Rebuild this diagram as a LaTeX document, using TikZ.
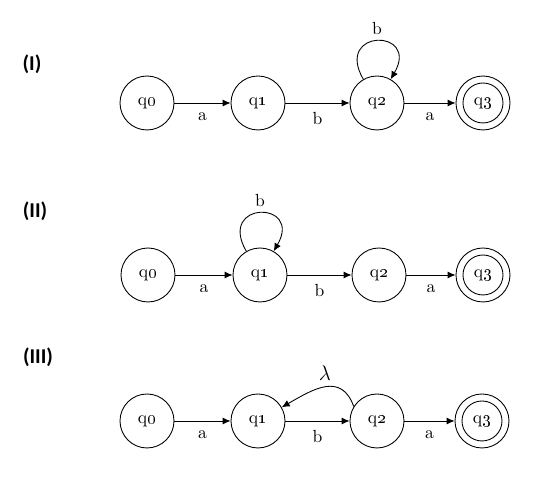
\documentclass[tikz,border=0pt]{standalone}
\usepackage{fontspec}
\newfontfamily\partfont{Carlito}
\newcommand\osn[1]{{\fontencoding{TS1}\fontfamily{lmr}\selectfont #1}}
\usetikzlibrary{arrows.meta}

\begin{document}
\begin{tikzpicture}[x=0.02cm, y=0.02cm, line width=0.5pt, >={Latex[length=4.5pt,width=4pt]},
    state/.style={circle, draw, minimum size=1.08cm, inner sep=0pt},
    accepting/.style={state, path picture={\draw (path picture bounding box.center) circle (0.4cm);}},
    part/.style={font=\partfont\bfseries\large}]
    \useasboundingbox (0,0) rectangle (556,502);

    % (I)
    \node[part] (p1) at (32,438) {(I)};
    \node[state] (a0) at (147,399) {q\osn{0}};
    \node[state] (a1) at (258,399) {q\osn{1}};
    \node[state] (a2) at (377,399) {q\osn{2}};
    \node[accepting] (a3) at (483,399) {q\osn{3}};
    \draw[->] (a0) -- node[below=2pt] {a} (a1);
    \draw[->] (a1) -- node[below=2pt] {b} (a2);
    \draw[->] (a2) -- node[below=2pt] {a} (a3);
    \draw[->] (a2) to[out=120, in=60, looseness=5.5] node[above] {b} (a2);

    % (II)
    \node[part] (p2) at (35,291) {(II)};
    \node[state] (b0) at (148,227) {q\osn{0}};
    \node[state] (b1) at (260,227) {q\osn{1}};
    \node[state] (b2) at (379,227) {q\osn{2}};
    \node[accepting] (b3) at (483,227) {q\osn{3}};
    \draw[->] (b0) -- node[below=2pt] {a} (b1);
    \draw[->] (b1) -- node[below=2pt] {b} (b2);
    \draw[->] (b2) -- node[below=2pt] {a} (b3);
    \draw[->] (b1) to[out=120, in=60, looseness=5.5] node[above] {b} (b1);

    % (III)
    \node[part] (p3) at (38,145) {(III)};
    \node[state] (c0) at (147,81) {q\osn{0}};
    \node[state] (c1) at (258,81) {q\osn{1}};
    \node[state] (c2) at (377,81) {q\osn{2}};
    \node[accepting] (c3) at (482,81) {q\osn{3}};
    \draw[->] (c0) -- node[below=2pt] {a} (c1);
    \draw[->] (c1) -- node[below=2pt] {b} (c2);
    \draw[->] (c2) -- node[below=2pt] {a} (c3);
    \draw[->] (c2.148) to[out=110, in=30, looseness=1.3] node[above] {\large$\lambda$} (c1.30);
\end{tikzpicture}
\end{document}
